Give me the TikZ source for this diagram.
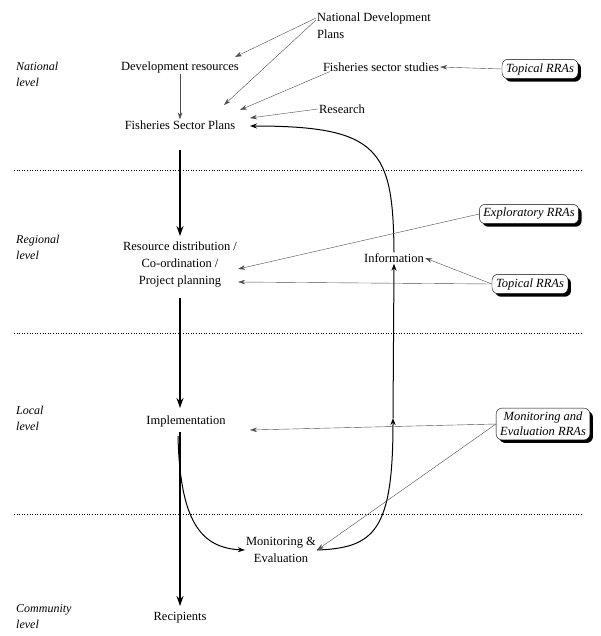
\documentclass[tikz,border=0pt]{standalone}
\usepackage{fontspec}
\setmainfont{Liberation Serif}
\usetikzlibrary{arrows.meta,shadows}
\begin{document}
\begin{tikzpicture}[x=1pt,y=-1pt,font=\fontsize{12.5}{17}\selectfont,
  txt/.style={inner sep=1pt,align=center},
  lvl/.style={inner sep=0pt,align=left,anchor=west,font=\fontsize{12}{16}\selectfont\itshape},
  rra/.style={draw,rounded corners=6pt,fill=white,font=\fontsize{12.5}{15}\selectfont\itshape,inner sep=4pt,align=center,
     drop shadow={shadow xshift=3pt,shadow yshift=-3pt,fill=black,opacity=1}},
  thin/.style={-{Stealth[length=7pt,width=4.5pt]},line width=0.4pt,black!70},
  thick/.style={-{Stealth[length=10pt,width=7pt]},line width=2pt},
  med/.style={-{Stealth[length=7pt,width=5pt]},line width=1pt},
  dot/.style={dotted,line width=0.6pt}]
\useasboundingbox (0,0) rectangle (600,636);
% levels
\node[lvl] (l1) at (16,74) {National\\level};
\node[lvl] (l2) at (16,247) {Regional\\level};
\node[lvl] (l3) at (16,418) {Local\\level};
\node[lvl] (l4) at (16,617) {Community\\level};
\coordinate (d1a) at (14,170); \coordinate (d1b) at (583,170);
\coordinate (d2a) at (14,333); \coordinate (d2b) at (583,333);
\coordinate (d3a) at (14,514); \coordinate (d3b) at (583,514);
\draw[dot] (d1a)--(d1b); \draw[dot] (d2a)--(d2b); \draw[dot] (d3a)--(d3b);
% nodes
\node[txt,align=left,anchor=west] (ndp) at (316,26) {National Development\\Plans};
\node[txt] (dr) at (180,67) {Development resources};
\node[txt] (fss) at (381,67) {Fisheries sector studies};
\node[rra] (t1) at (540,69) {Topical RRAs};
\node[txt] (res) at (342,109) {Research};
\node[txt] (fsp) at (180,125) {Fisheries Sector Plans};
\node[txt] (rd) at (180,265) {Resource distribution /\\Co-ordination /\\Project planning};
\node[txt] (inf) at (394,258) {Information};
\node[rra] (ex) at (529,214) {Exploratory RRAs};
\node[rra] (t2) at (530,284) {Topical RRAs};
\node[txt] (imp) at (186,421) {Implementation};
\node[rra] (me) at (543,424) {Monitoring and\\Evaluation RRAs};
\node[txt] (mev) at (281,550) {Monitoring \&\\Evaluation};
\node[txt] (rec) at (180,618) {Recipients};
\coordinate (a1) at (180,150); \coordinate (a2) at (180,236);
\coordinate (b1) at (180,298); \coordinate (b2) at (180,408);
\coordinate (c1) at (180,432); \coordinate (c2) at (180,606);
% national arrows
\draw[thin] (ndp.west |- 0,18) -- (235,57);
\draw[thin] (ndp.west |- 0,20) -- (224,105);
\draw[thin] (fss.south west) ++(8,-1) -- (240,110);
\draw[thin] (res.west) -- (250,118);
\draw[thin] (dr.south) -- (fsp.north);
\draw[thin] (t1.west) -- (fss.east);
% thick
\draw[thick] (a1) -- (a2);
\draw[thick] (b1) -- (b2);
\draw[thick] (c1) -- (c2);
% loop
\draw[med] (178,436) .. controls (180,520) and (200,548) .. (mev.west);
\coordinate (up) at (393,418);
\draw[med] (mev.east) .. controls (375,548) and (393,530) .. (up);
\draw[med] (up) -- (inf.south);
\draw[med] (inf.north) .. controls (393,150) and (380,126) .. (250,126);
% RRA arrows
\draw[thin] (ex.west) -- (rd.east |- 0,269);
\draw[thin] (t2.west) -- (rd.east |- 0,282);
\draw[thin] (t2.west) -- (inf.east);
\draw[thin] (me.west) -- (250,430);
\draw[thin] (me.west) -- (mev.east);
\end{tikzpicture}
\end{document}
